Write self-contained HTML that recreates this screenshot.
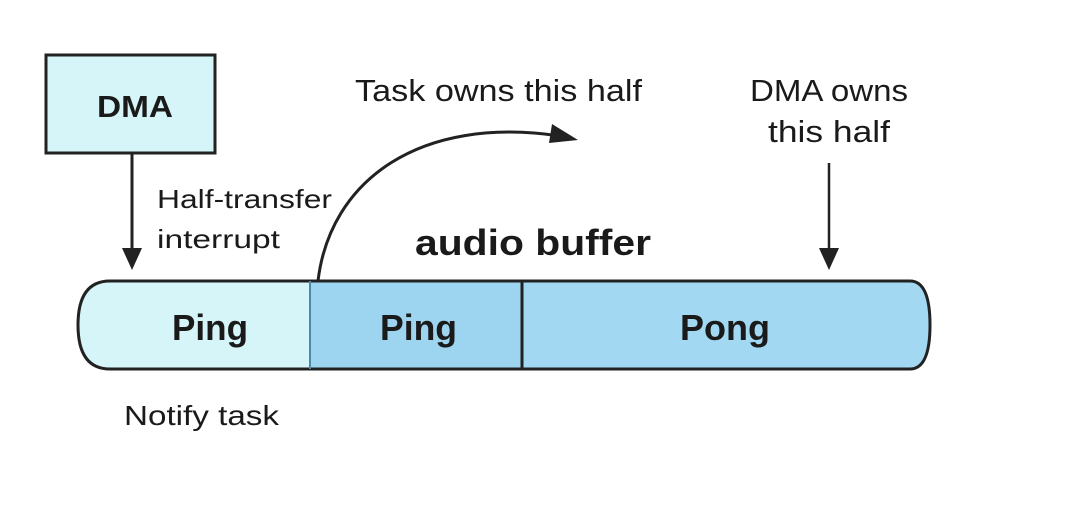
<!DOCTYPE html>
<html><head><meta charset="utf-8"><style>
body{margin:0;background:#fff;}
svg{display:block;font-family:"Liberation Sans","DejaVu Sans",sans-serif;}
</style></head><body>
<svg width="1076" height="530" viewBox="0 0 1076 530">
<rect x="46" y="55" width="169" height="98" fill="#d6f5f8" stroke="#222" stroke-width="3"/>
<text x="97" y="117" font-size="31" font-weight="bold" textLength="76" lengthAdjust="spacingAndGlyphs" fill="#1a1a1a">DMA</text>
<line x1="132" y1="153" x2="132" y2="252" stroke="#222" stroke-width="3"/>
<polygon points="122,248 142,248 132,270" fill="#222"/>
<text x="157" y="208" font-size="26" textLength="175" lengthAdjust="spacingAndGlyphs" fill="#1a1a1a">Half-transfer</text>
<text x="157" y="248" font-size="26" textLength="123" lengthAdjust="spacingAndGlyphs" fill="#1a1a1a">interrupt</text>
<text x="355" y="101" font-size="31" textLength="287" lengthAdjust="spacingAndGlyphs" fill="#1a1a1a">Task owns this half</text>
<text x="750" y="101" font-size="31" textLength="158" lengthAdjust="spacingAndGlyphs" fill="#1a1a1a">DMA owns</text>
<text x="768" y="142" font-size="31" textLength="122" lengthAdjust="spacingAndGlyphs" fill="#1a1a1a">this half</text>
<line x1="829" y1="163" x2="829" y2="252" stroke="#222" stroke-width="2.5"/>
<polygon points="819,248 839,248 829,270" fill="#222"/>
<text x="415" y="255" font-size="36" font-weight="bold" textLength="236" lengthAdjust="spacingAndGlyphs" fill="#1a1a1a">audio buffer</text>
<path d="M318,281 C330,180 420,115 560,136" fill="none" stroke="#222" stroke-width="3"/>
<polygon points="552,124 578,140 549,143" fill="#222"/>
<path d="M310,281 L110,281 Q78,281 78,325 Q78,369 110,369 L310,369 Z" fill="#d6f5f8"/>
<rect x="310" y="281" width="212" height="88" fill="#9dd5f0"/>
<path d="M522,281 L910,281 Q930,281 930,325 Q930,369 910,369 L522,369 Z" fill="#a3d8f3"/>
<path d="M110,281 L910,281 Q930,281 930,325 Q930,369 910,369 L110,369 Q78,369 78,325 Q78,281 110,281 Z" fill="none" stroke="#222" stroke-width="3"/>
<line x1="310" y1="281" x2="310" y2="369" stroke="#4a8aaa" stroke-width="2"/>
<line x1="522" y1="281" x2="522" y2="369" stroke="#222" stroke-width="3"/>
<text x="172" y="340" font-size="36" font-weight="bold" textLength="76" lengthAdjust="spacingAndGlyphs" fill="#1a1a1a">Ping</text>
<text x="380" y="340" font-size="36" font-weight="bold" textLength="77" lengthAdjust="spacingAndGlyphs" fill="#1a1a1a">Ping</text>
<text x="680" y="340" font-size="36" font-weight="bold" textLength="90" lengthAdjust="spacingAndGlyphs" fill="#1a1a1a">Pong</text>
<text x="124" y="425" font-size="28" textLength="155" lengthAdjust="spacingAndGlyphs" fill="#1a1a1a">Notify task</text>
</svg>
</body></html>
